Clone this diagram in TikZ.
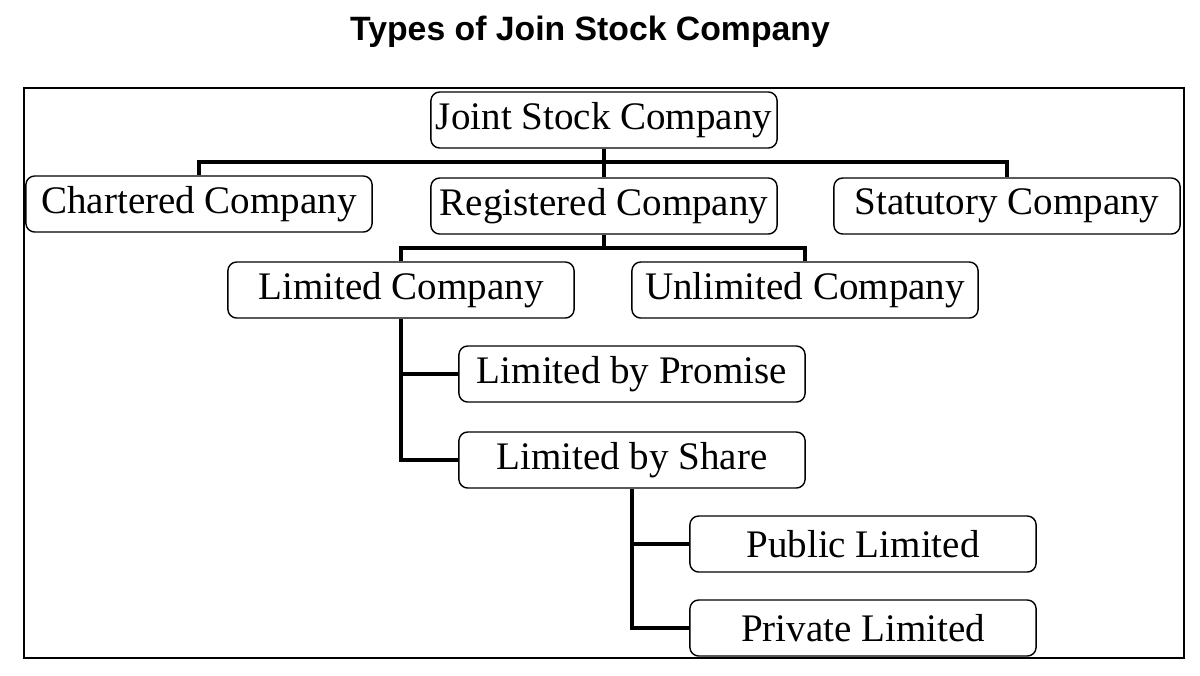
\documentclass[tikz,border=0pt]{standalone}
\usepackage{fontspec}
\setmainfont{Liberation Serif}
\newfontfamily\titlefont{Liberation Sans}
\usetikzlibrary{positioning}

\begin{document}
\begin{tikzpicture}[x=0.01cm,y=-0.01cm,
    box/.style={draw=black, rounded corners=2.5pt, minimum width=3.46cm, minimum height=0.56cm, inner sep=0pt, font=\fontsize{11.1}{12}\selectfont},
    link/.style={line width=1.2pt}]
    \useasboundingbox (0,0) rectangle (1200,675);
    % Title and frame
    \node (title) at (590,32) {\titlefont\bfseries\fontsize{9.6}{11}\selectfont Types of Join Stock Company};
    \draw[line width=0.6pt] (24,88) rectangle (1184,658);

    % Boxes
    \node[box] (jsc) at (604,120) {Joint Stock Company};
    \node[box] (char) at (199,204) {Chartered Company};
    \node[box] (reg) at (604,206) {Registered Company};
    \node[box] (stat) at (1007,206) {Statutory Company};
    \node[box] (lim) at (401,290) {Limited Company};
    \node[box] (unlim) at (805,290) {Unlimited Company};
    \node[box] (prom) at (632,374) {Limited by Promise};
    \node[box] (share) at (632,460) {Limited by Share};
    \node[box] (pub) at (863,544) {Public Limited};
    \node[box] (priv) at (863,628) {Private Limited};

    % Connectors
    \coordinate (bus1) at (604,162);
    \draw[link] (jsc.south) -- (bus1);
    \draw[link] (char.north) |- (bus1) -| (stat.north);
    \draw[link] (bus1) -- (reg.north);
    \coordinate (bus2) at (604,248);
    \draw[link] (reg.south) -- (bus2);
    \draw[link] (lim.north) |- (bus2) -| (unlim.north);
    \draw[link] (lim.south) |- (share.west);
    \draw[link] (lim.south |- prom.west) -- (prom.west);
    \draw[link] (share.south) |- (priv.west);
    \draw[link] (share.south |- pub.west) -- (pub.west);
\end{tikzpicture}
\end{document}
